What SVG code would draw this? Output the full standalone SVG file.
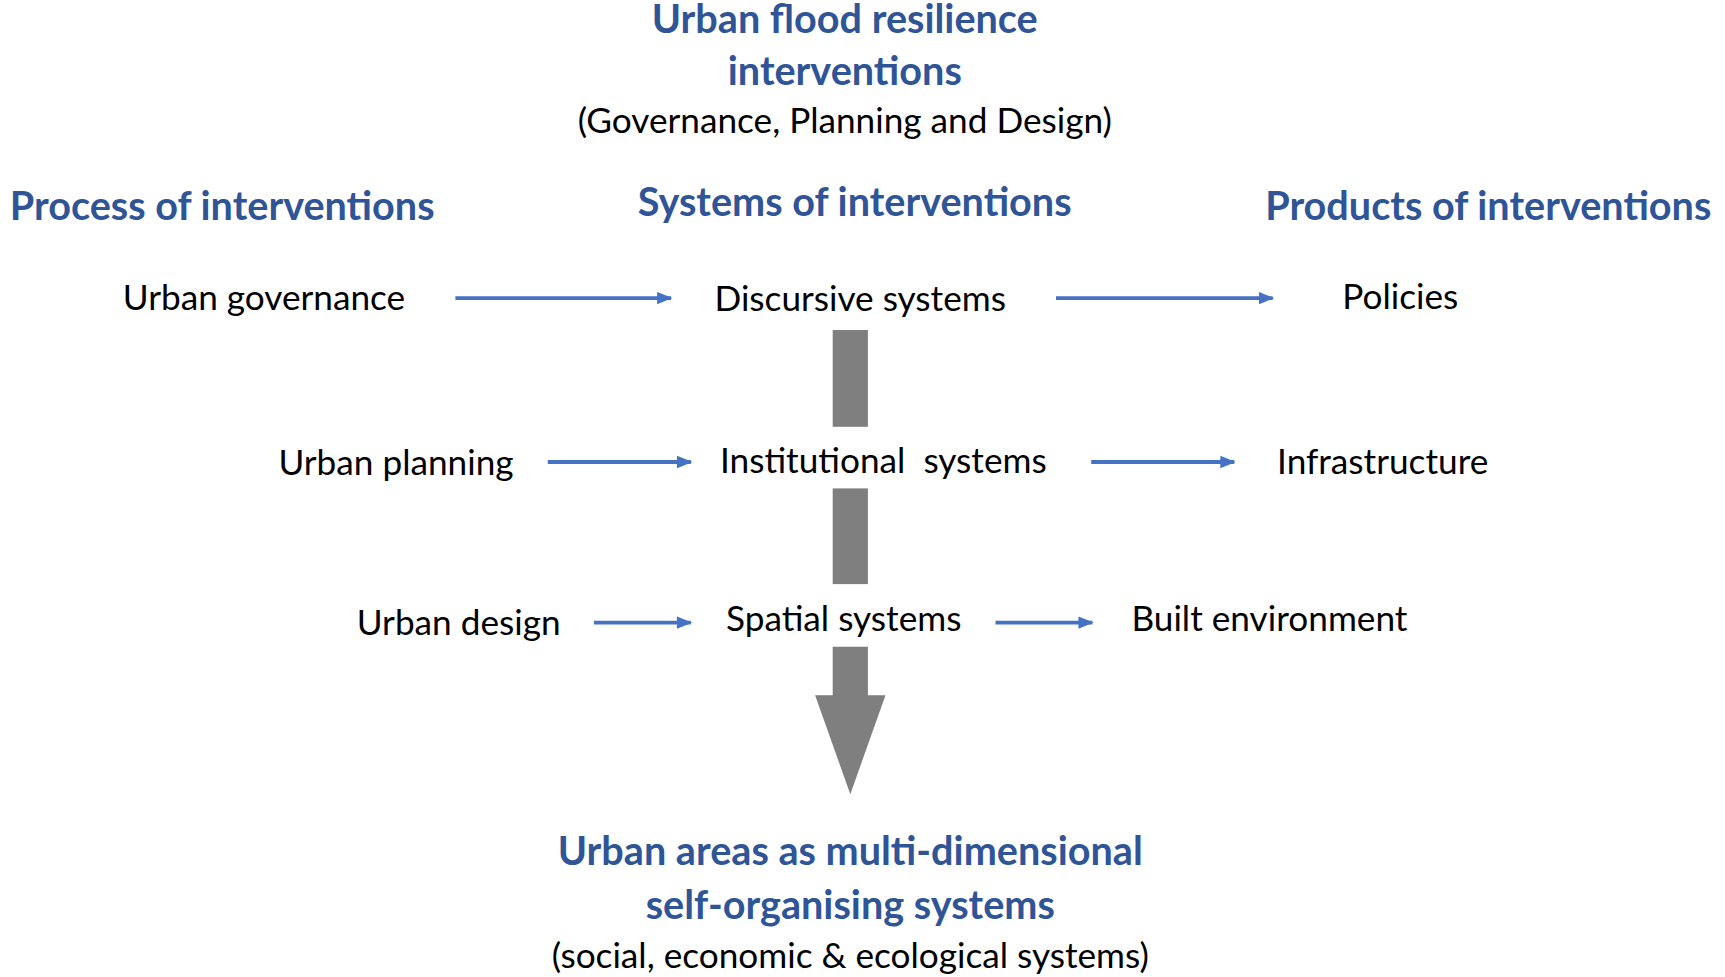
<svg xmlns="http://www.w3.org/2000/svg" width="1725" height="977" viewBox="0 0 1725 977">
<defs>
<style>
.h{font-family:Lato,"Open Sans",sans-serif;font-weight:bold;font-size:36px;fill:#2F5597}
.t{font-family:Lato,"Open Sans",sans-serif;font-size:32px;fill:#000}
.a{stroke:#4472C4;stroke-width:3.5;fill:none;marker-end:url(#m)}
.g{fill:#7F7F7F}
</style>
<marker id="m" viewBox="0 0 10 10" refX="9" refY="5" markerWidth="4" markerHeight="4" orient="auto" markerUnits="strokeWidth"><path d="M0,1 L10,5 L0,9 z" fill="#4472C4"/></marker>
</defs>
<rect width="1725" height="977" fill="#fff"/>
<g transform="scale(1.1)">
<g id="title">
<text class="h" x="768" y="30" text-anchor="middle">Urban flood resilience</text>
<text class="h" x="768" y="77" text-anchor="middle">interventions</text>
<text class="t" x="768" y="121" text-anchor="middle">(Governance, Planning and Design)</text>
</g>
<g id="headers">
<text class="h" x="202" y="200" text-anchor="middle">Process of interventions</text>
<text class="h" x="777" y="196" text-anchor="middle">Systems of interventions</text>
<text class="h" x="1353" y="200" text-anchor="middle">Products of interventions</text>
</g>
<g id="n-gov"><text class="t" x="240" y="282" text-anchor="middle">Urban governance</text></g>
<g id="n-disc"><text class="t" x="782" y="283" text-anchor="middle">Discursive systems</text></g>
<g id="n-pol"><text class="t" x="1273" y="281" text-anchor="middle">Policies</text></g>
<g id="n-plan"><text class="t" x="360" y="432" text-anchor="middle">Urban planning</text></g>
<g id="n-inst"><text class="t" x="803" y="430" text-anchor="middle" xml:space="preserve">Institutional  systems</text></g>
<g id="n-infra"><text class="t" x="1257" y="431" text-anchor="middle">Infrastructure</text></g>
<g id="n-des"><text class="t" x="417" y="577" text-anchor="middle">Urban design</text></g>
<g id="n-spat"><text class="t" x="767" y="574" text-anchor="middle">Spatial systems</text></g>
<g id="n-built"><text class="t" x="1154" y="574" text-anchor="middle">Built environment</text></g>
<g id="bottom">
<text class="h" x="773" y="786" text-anchor="middle">Urban areas as multi-dimensional</text>
<text class="h" x="773" y="835" text-anchor="middle">self-organising systems</text>
<text class="t" x="773" y="880" text-anchor="middle">(social, economic &amp; ecological systems)</text>
</g>
<g id="connectors">
<line class="a" x1="414" y1="271" x2="610" y2="271"/>
<line class="a" x1="960" y1="271" x2="1157" y2="271"/>
<line class="a" x1="498" y1="420" x2="628" y2="420"/>
<line class="a" x1="992" y1="420" x2="1122" y2="420"/>
<line class="a" x1="540" y1="566" x2="628" y2="566"/>
<line class="a" x1="905" y1="566" x2="993" y2="566"/>
<rect class="g" x="757" y="300" width="32" height="88"/>
<rect class="g" x="757" y="444" width="32" height="87"/>
<path class="g" d="M757,588 H789 V632 H805 L773,722 L741,632 H757 Z"/>
</g>
</g>
</svg>
